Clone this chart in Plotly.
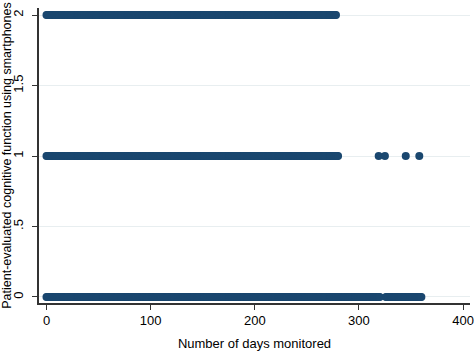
import plotly.graph_objects as go

# Observed runs of monitored days (start, end inclusive) for each score level
score_levels = [2, 1, 0]
runs_score2 = [(0, 278)]
runs_score1 = [(0, 280)]
isolated_score1 = [319, 325, 345, 358]
runs_score0 = [(0, 320), (326, 360)]

x_ticks = [0, 100, 200, 300, 400]
x_tick_labels = ["0", "100", "200", "300", "400"]
y_ticks = [0, 0.5, 1, 1.5, 2]
y_tick_labels = ["0", ".5", "1", "1.5", "2"]

def expand(runs, extra=()):
    days = []
    for a, b in runs:
        days.extend(range(a, b + 1))
    days.extend(extra)
    return days

days2 = expand(runs_score2)
days1 = expand(runs_score1, isolated_score1)
days0 = expand(runs_score0)

xs = days2 + days1 + days0
ys = [score_levels[0]] * len(days2) + [score_levels[1]] * len(days1) + [score_levels[2]] * len(days0)

fig = go.Figure()
fig.add_trace(go.Scatter(
    x=xs, y=ys, mode="markers",
    marker=dict(size=8, color="#1a476f", line=dict(width=0)),
    showlegend=False,
))

font = dict(family="Liberation Sans, Arial, sans-serif", size=13, color="#000000")
ytitle_font = dict(family="Liberation Sans, Arial, sans-serif", size=12.5, color="#000000")

fig.update_layout(
    width=474, height=354,
    margin=dict(l=39, r=4, t=8, b=51),
    paper_bgcolor="white", plot_bgcolor="white",
    font=font,
    xaxis=dict(
        range=[-7.2, 406.7], automargin=False,
        tickmode="array", tickvals=x_ticks, ticktext=x_tick_labels,
        ticks="outside", ticklen=5, tickcolor="#333333", tickwidth=1,
        showline=True, linecolor="#333333", linewidth=1.5,
        showgrid=False, zeroline=False,
        title=dict(text="Number of days monitored", standoff=12, font=font),
    ),
    yaxis=dict(
        range=[-0.0426, 2.05], automargin=False,
        tickmode="array", tickvals=y_ticks, ticktext=y_tick_labels,
        tickangle=-90, ticklabelstandoff=4,
        ticks="outside", ticklen=5, tickcolor="#333333", tickwidth=1,
        showline=True, linecolor="#333333", linewidth=1.5,
        showgrid=True, gridcolor="#e8eef0", gridwidth=1,
        zeroline=False,
        title=dict(text="Patient-evaluated cognitive function using smartphones", standoff=2, font=ytitle_font),
    ),
)

fig.write_html("out.html")
